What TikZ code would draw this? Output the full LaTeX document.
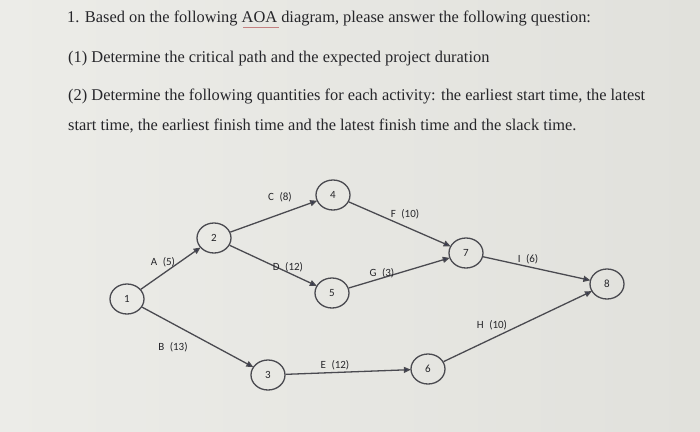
\documentclass[tikz,border=0pt]{standalone}
\usepackage{fontspec}
\setmainfont{Liberation Serif}
\newfontfamily\lblfont[WordSpace=2.2]{Carlito}
\usetikzlibrary{shapes.geometric,arrows.meta}
\definecolor{bgL}{RGB}{236,236,232}
\definecolor{bgR}{RGB}{225,225,220}
\definecolor{inkT}{RGB}{38,38,42}
\definecolor{inkL}{RGB}{74,74,80}
\definecolor{inkA}{RGB}{48,52,80}
\definecolor{squig}{RGB}{196,128,128}
\tikzset{
  qtext/.style={anchor=base west, inner sep=0pt, font=\fontsize{16.4}{19}\selectfont, text=inkT},
  event/.style={draw=inkL, line width=1.3pt, ellipse, minimum width=34pt, minimum height=30pt, inner sep=0pt, font=\lblfont\fontsize{11}{12}\selectfont, text=inkT},
  act/.style={draw=inkL, line width=1.3pt, -{Triangle[length=7pt,width=6pt,fill=inkA]}, shorten >=-0.5pt},
  alabel/.style={inner sep=0pt, font=\lblfont\fontsize{11}{13}\selectfont, text=inkT}
}
\begin{document}
\begin{tikzpicture}[x=1pt,y=-1pt]
\useasboundingbox (0,0) rectangle (700,431);
\shade[left color=bgL, right color=bgR] (0,0) rectangle (700,431);
% question text
\node[qtext] (q1) at (67,22) {1. Based on the following AOA diagram, please answer the following question:};
\draw[squig, line width=0.9pt] (243,27) -- (279,27);
\node[qtext] (q2) at (68,62) {(1) Determine the critical path and the expected project duration};
\node[qtext] (q3) at (68,100) {(2) Determine the following quantities for each activity: the earliest start time, the latest};
\node[qtext] (q4) at (68,130) {start time, the earliest finish time and the latest finish time and the slack time.};
% events
\node[event] (e1) at (127,299) {1};
\node[event] (e2) at (214,238) {2};
\node[event] (e4) at (333,195) {4};
\node[event] (e5) at (332,293) {5};
\node[event] (e3) at (268,375) {3};
\node[event] (e7) at (466,253) {7};
\node[event] (e6) at (428,369) {6};
\node[event] (e8) at (607,284) {8};
% activities
\draw[act] (e1) -- (e2);
\draw[act] (e1) -- (e3);
\draw[act] (e2) -- (e4);
\draw[act] (e2) -- (e5);
\draw[act] (e4) -- (e7);
\draw[act] (e5) -- (e7);
\draw[act] (e3) -- (e6);
\draw[act] (e7) -- (e8);
\draw[act] (e6) -- (e8);
% labels
\node[alabel] (lA) at (163,262) {A (5)};
\node[alabel] (lB) at (173,347) {B (13)};
\node[alabel] (lC) at (280,197) {C (8)};
\node[alabel] (lD) at (288,267) {D (12)};
\node[alabel] (lE) at (335,365) {E (12)};
\node[alabel] (lF) at (405,214) {F (10)};
\node[alabel] (lG) at (382,273) {G (3)};
\node[alabel] (lH) at (492,325) {H (10)};
\node[alabel] (lI) at (528,259) {I (6)};
\end{tikzpicture}
\end{document}
